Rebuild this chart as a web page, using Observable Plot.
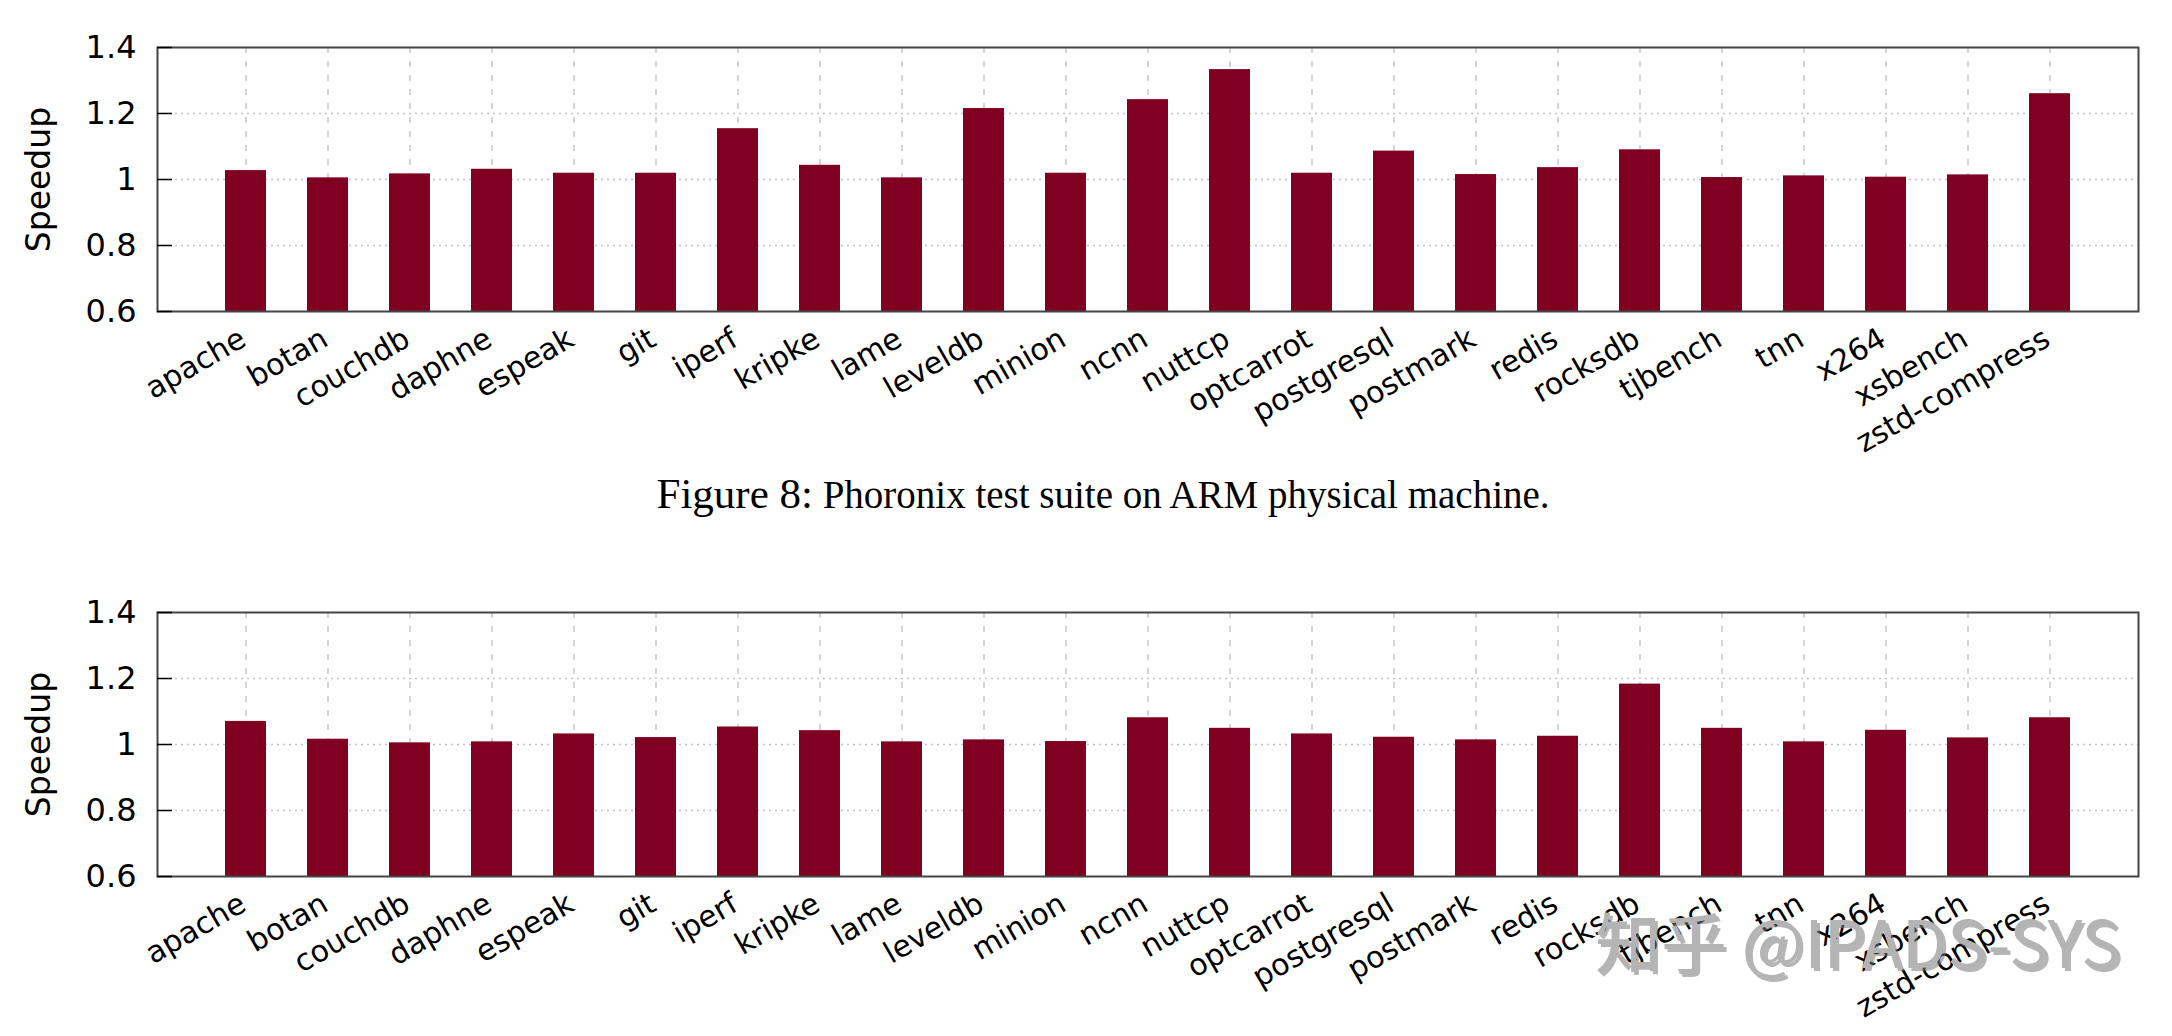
<!DOCTYPE html>
<html><head><meta charset="utf-8">
<script src="https://cdn.jsdelivr.net/npm/d3@7"></script>
<script src="https://cdn.jsdelivr.net/npm/@observablehq/plot@0.6"></script>
<style>
html,body{margin:0;padding:0;background:#fff;width:2172px;height:1036px;overflow:hidden;position:relative;}
#c1{position:absolute;left:0;top:0}
#c2{position:absolute;left:0;top:565px}
#cap{position:absolute;left:1103px;top:472px;transform:translateX(-50%);white-space:nowrap;font-family:"Liberation Serif","Times New Roman",serif;line-height:1;color:#000;}
#cap .fig{font-size:43px}
#cap .txt{font-size:39px}
#wm{position:absolute;left:1595px;top:906px;font-family:"Noto Sans CJK SC","Noto Sans",sans-serif;font-size:66px;line-height:1;color:#b4b4b4;text-shadow:3px 3px 0 rgba(120,120,120,0.55);white-space:nowrap;}
</style></head><body>
<div id="c1"></div>
<div id="cap"><span class="fig">Figure 8:</span><span class="txt"> Phoronix test suite on ARM physical machine.</span></div>
<div id="c2"></div>
<div id="wm">知乎 @IPADS-SYS</div>
<script>
const cats = ["apache","botan","couchdb","daphne","espeak","git","iperf","kripke","lame","leveldb","minion","ncnn","nuttcp","optcarrot","postgresql","postmark","redis","rocksdb","tjbench","tnn","x264","xsbench","zstd-compress"];
const speedupTop = [1.027,1.005,1.017,1.031,1.019,1.019,1.154,1.043,1.005,1.215,1.019,1.242,1.333,1.019,1.086,1.015,1.036,1.090,1.006,1.011,1.007,1.014,1.260];
const speedupBottom = [1.070,1.016,1.005,1.008,1.032,1.021,1.053,1.042,1.008,1.014,1.009,1.081,1.049,1.032,1.022,1.014,1.025,1.183,1.049,1.008,1.043,1.020,1.081];
const yTicks = [0.6,0.8,1.0,1.2,1.4];
const yLabel = "Speedup";

const fmt = d => String(+d.toFixed(1));

function chart(values) {
  const data = cats.map((c, i) => ({cat: c, v: values[i]}));
  return Plot.plot({
    width: 2172, height: 451,
    marginTop: 47, marginBottom: 140, marginLeft: 157, marginRight: 34,
    style: {fontFamily: "DejaVu Sans", fontSize: "30px", background: "transparent", overflow: "visible", color: "black"},
    x: {type: "band", domain: cats, paddingInner: 0.5, paddingOuter: 0.75, axis: null},
    y: {domain: [yTicks[0], yTicks[yTicks.length - 1]], axis: null},
    marks: [
      Plot.ruleY(yTicks.slice(1, -1), {y: d => d, stroke: "#c4c4c4", strokeDasharray: "2,4", strokeWidth: 1.5}),
      Plot.ruleX(cats, {x: d => d, stroke: "#c8c8c8", strokeDasharray: "6,8", strokeWidth: 1.5}),
      Plot.barY(data, {x: "cat", y1: yTicks[0], y2: "v", fill: "#7f0020"}),
      Plot.frame({stroke: "#444", strokeWidth: 2}),
      Plot.axisY(yTicks, {label: null, tickSize: -15, tickPadding: 36, tickFormat: fmt, fontSize: 32, color: "black", strokeWidth: 1.5}),
      Plot.text(cats, {x: d => d, text: d => d, frameAnchor: "bottom", dy: 33, dx: 2, rotate: -30, textAnchor: "end", lineAnchor: "bottom", fontSize: 30, fill: "black"}),
      Plot.text([yLabel], {text: d => d, frameAnchor: "left", dx: -108, rotate: -90, lineAnchor: "bottom", textAnchor: "middle", fontSize: 33, fill: "black"})
    ]
  });
}
document.getElementById("c1").append(chart(speedupTop));
document.getElementById("c2").append(chart(speedupBottom));
</script>
</body></html>
